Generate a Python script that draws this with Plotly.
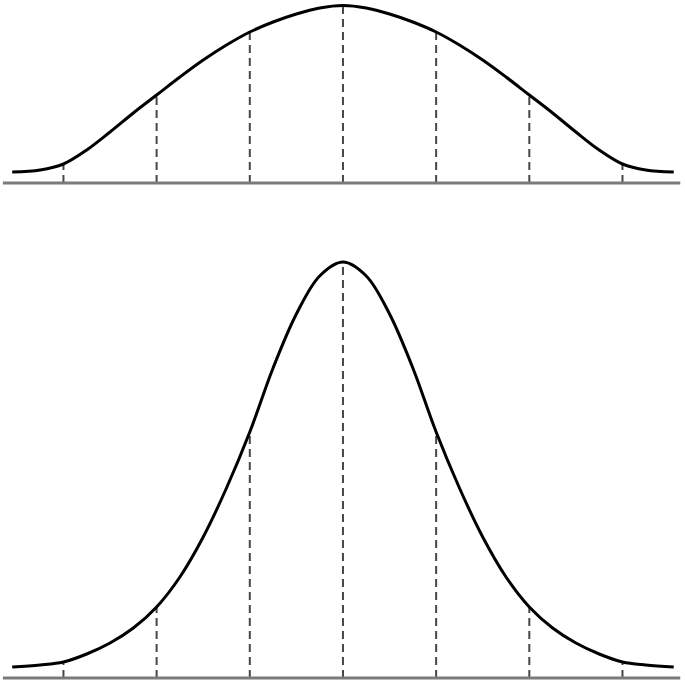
import plotly.graph_objects as go

# positions along the axis, in standard-deviation steps (left half, mirrored below)
half_x = [-3.55, -3.25, -3, -2.75, -2.5, -2.25, -2, -1.75, -1.5, -1.25, -1, -0.75, -0.5, -0.25, 0]
# heights
wide_half = [11, 13, 19, 33, 51, 70, 88, 106, 123, 138, 151, 161, 169, 175, 177.5]
narrow_half = [11, 13, 16, 24, 35, 50, 71, 101, 141, 190, 246, 310, 364, 402, 416]

curve_x = half_x + [-v for v in half_x[-2::-1]]
wide_y = wide_half + wide_half[-2::-1]
narrow_y = narrow_half + narrow_half[-2::-1]

mark_x = [-3, -2, -1, 0, 1, 2, 3]
wide_marks = [18, 87, 150, 177, 150, 87, 18]
narrow_marks = [15, 71, 246, 414, 246, 71, 15]

base_x = [-3.65, 3.62]

X_RANGE = [-3.681, 3.671]


def stems(xs, hs):
    xx, yy = [], []
    for x, h in zip(xs, hs):
        xx += [x, x, None]
        yy += [0, h, None]
    return xx, yy


fig = go.Figure()

for i, (ys, marks) in enumerate([(wide_y, wide_marks), (narrow_y, narrow_marks)]):
    xa = "x" if i == 0 else "x2"
    ya = "y" if i == 0 else "y2"
    sx, sy = stems(mark_x, marks)
    fig.add_trace(go.Scatter(
        x=sx, y=sy, mode="lines", xaxis=xa, yaxis=ya,
        line=dict(color="#474747", width=2, dash="8px,5px"),
        hoverinfo="skip", showlegend=False,
    ))
    fig.add_trace(go.Scatter(
        x=base_x, y=[0, 0], mode="lines", xaxis=xa, yaxis=ya,
        line=dict(color="#7a7a7a", width=3),
        hoverinfo="skip", showlegend=False,
    ))
    fig.add_trace(go.Scatter(
        x=curve_x, y=ys, mode="lines", xaxis=xa, yaxis=ya,
        line=dict(color="black", width=3, shape="spline", smoothing=1.0),
        showlegend=False,
    ))

hidden = dict(showgrid=False, zeroline=False, showticklabels=False,
              showline=False, ticks="", fixedrange=True)

fig.update_layout(
    width=685,
    height=686,
    margin=dict(l=0, r=0, t=0, b=0),
    plot_bgcolor="white",
    paper_bgcolor="white",
    xaxis=dict(range=X_RANGE, anchor="y", **hidden),
    xaxis2=dict(range=X_RANGE, anchor="y2", **hidden),
    yaxis=dict(domain=[1 - 200 / 686, 1], range=[-17, 183], anchor="x", **hidden),
    yaxis2=dict(domain=[0, 1 - 230 / 686], range=[-8, 448], anchor="x2", **hidden),
)

# page body has a default 8px margin; drop it so the figure sits at the window corner
fig.write_html("out.html", config={"displayModeBar": False},
               post_script="document.body.style.margin='0';")
